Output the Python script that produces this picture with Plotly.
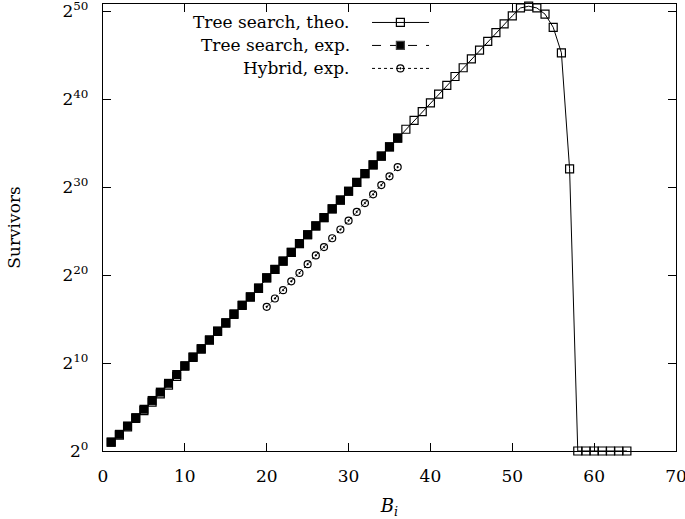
import plotly.graph_objects as go

# # Data
# -----------------------------------------------------|
theo_x = list(range(1, 65))
theo_y = [1.0, 1.8, 2.75, 3.7, 4.6, 5.55, 6.5, 7.5, 8.5, 9.65,
          10.65, 11.6, 12.6, 13.6, 14.55, 15.55, 16.55, 17.5, 18.5, 19.7,
          20.65, 21.6, 22.6, 23.6, 24.6, 25.6, 26.55, 27.55, 28.55, 29.55,
          30.55, 31.55, 32.55, 33.55, 34.6, 35.6, 36.6, 37.6, 38.6, 39.6,
          40.6, 41.6, 42.6, 43.6, 44.6, 45.6, 46.6, 47.6, 48.6, 49.5,
          50.4, 50.6, 50.4, 49.7, 48.2, 45.3, 32.1, 0, 0, 0,
          0, 0, 0, 0]

exp_x = list(range(1, 37))
exp_y = [1.0, 1.9, 2.85, 3.8, 4.75, 5.75, 6.7, 7.7, 8.7, 9.7,
         10.7, 11.65, 12.65, 13.65, 14.6, 15.6, 16.6, 17.55, 18.55, 19.7,
         20.65, 21.6, 22.6, 23.6, 24.6, 25.6, 26.55, 27.55, 28.55, 29.55,
         30.55, 31.55, 32.55, 33.55, 34.6, 35.6]

hyb_x = list(range(20, 37))
hyb_y = [16.4, 17.35, 18.3, 19.3, 20.25, 21.25, 22.25, 23.2, 24.2, 25.2,
         26.2, 27.2, 28.2, 29.2, 30.25, 31.25, 32.3]

x_ticks = [0, 10, 20, 30, 40, 50, 60, 70]
y_ticks = [0, 10, 20, 30, 40, 50]
y_labels = ['2<sup>%d</sup>' % t for t in y_ticks]

legend_names = ['Tree search, theo.', 'Tree search, exp.', 'Hybrid, exp.']
legend_rows = [0.9587, 0.9073, 0.8559]

FONT = 'DejaVu Serif'
FSIZE = 17

fig = go.Figure()

# main series
fig.add_trace(go.Scatter(
    x=theo_x, y=theo_y, mode='lines+markers', cliponaxis=False,
    line=dict(color='black', width=1),
    marker=dict(symbol='square-open', size=8, color='black',
                line=dict(width=1.2)),
    showlegend=False))
fig.add_trace(go.Scatter(
    x=exp_x, y=exp_y, mode='lines+markers', cliponaxis=False,
    line=dict(color='black', width=1, dash='dash'),
    marker=dict(symbol='square', size=9, color='black'),
    showlegend=False))
fig.add_trace(go.Scatter(
    x=hyb_x, y=hyb_y, mode='lines+markers', cliponaxis=False,
    line=dict(color='black', width=1, dash='dot'),
    marker=dict(symbol='circle-open-dot', size=7, color='black',
                line=dict(width=1.2)),
    showlegend=False))

# gnuplot-style key: text on the left, sample on the right
styles = [
    dict(dash='solid', symbol='square-open', size=8),
    dict(dash='dash', symbol='square', size=8),
    dict(dash='dot', symbol='circle-open-dot', size=7),
]
for name, yrow, st in zip(legend_names, legend_rows, styles):
    fig.add_trace(go.Scatter(
        x=[0.4695, 0.569], y=[yrow, yrow], mode='lines',
        line=dict(color='black', width=1, dash=st['dash']),
        xaxis='x2', yaxis='y2', showlegend=False, hoverinfo='skip'))
    fig.add_trace(go.Scatter(
        x=[0.519], y=[yrow], mode='markers',
        marker=dict(symbol=st['symbol'], size=st['size'], color='black',
                    line=dict(width=1.2)),
        xaxis='x2', yaxis='y2', showlegend=False, hoverinfo='skip'))
    fig.add_annotation(
        x=0.4346, y=yrow, xref='paper', yref='paper', text=name,
        showarrow=False, xanchor='right', yanchor='middle',
        font=dict(family=FONT, size=FSIZE, color='black'))

axis_common = dict(
    showline=True, mirror='ticks', linecolor='black', linewidth=1.3,
    ticks='inside', ticklen=8, tickwidth=1.2, tickcolor='black',
    showgrid=False, zeroline=False, automargin=False,
    ticklabeloverflow='allow',
    tickfont=dict(family=FONT, size=FSIZE, color='black'),
)

fig.update_layout(
    width=685, height=519,
    margin=dict(l=103, r=9, t=4, b=68),
    paper_bgcolor='white', plot_bgcolor='white',
    font=dict(family=FONT, color='black'),
    xaxis=dict(range=[0, 70], tickvals=x_ticks, ticklabelstandoff=9,
               title=dict(text='<i>B<sub>i</sub></i>', standoff=17,
                          font=dict(family=FONT, size=FSIZE + 1)),
               **axis_common),
    yaxis=dict(range=[0, 50.85], tickvals=y_ticks, ticktext=y_labels,
               ticklabelstandoff=10,
               title=dict(text='Survivors', standoff=37,
                          font=dict(family=FONT, size=FSIZE)),
               **axis_common),
    xaxis2=dict(range=[0, 1], overlaying='x', visible=False),
    yaxis2=dict(range=[0, 1], overlaying='y', visible=False),
)

# page margin off so the figure sits at the window origin
fig.write_html('out.html', config={'displayModeBar': False},
               post_script="document.body.style.margin='0';")
